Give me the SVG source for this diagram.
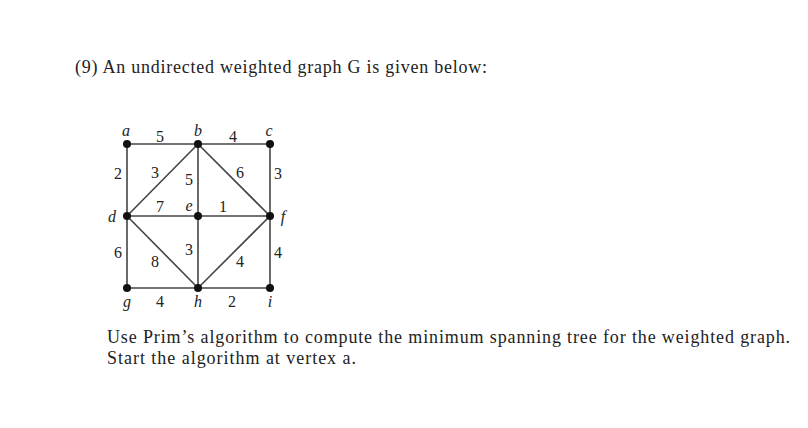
<svg xmlns="http://www.w3.org/2000/svg" width="808" height="428" viewBox="0 0 808 428">
<style>
text{font-family:"Liberation Serif",serif;fill:#222}
.t{font-size:18px}
.w{font-size:16px;text-anchor:middle}
.v{font-size:16px;font-style:italic;text-anchor:middle}
line{stroke:#444;stroke-width:1.6}
circle{fill:#111}
</style>
<rect width="808" height="428" fill="#fff"/>
<text class="t" x="75" y="73" textLength="412" lengthAdjust="spacing">(9) An undirected weighted graph G is given below:</text>
<g id="edges">
<line x1="127" y1="144" x2="270" y2="144"/>
<line x1="127" y1="216" x2="270" y2="216"/>
<line x1="127" y1="288" x2="270" y2="288"/>
<line x1="127" y1="144" x2="127" y2="288"/>
<line x1="198" y1="144" x2="198" y2="288"/>
<line x1="270" y1="144" x2="270" y2="288"/>
<line x1="127" y1="216" x2="198" y2="144"/>
<line x1="198" y1="144" x2="270" y2="216"/>
<line x1="127" y1="216" x2="198" y2="288"/>
<line x1="198" y1="288" x2="270" y2="216"/>
</g>
<g id="weights">
<text class="w" x="160" y="142">5</text><text class="w" x="233" y="142">4</text>
<text class="w" x="118" y="179">2</text><text class="w" x="155" y="178">3</text>
<text class="w" x="189" y="185">5</text><text class="w" x="240" y="178">6</text>
<text class="w" x="278" y="179">3</text><text class="w" x="160" y="212">7</text>
<text class="w" x="223" y="212">1</text><text class="w" x="118" y="258">6</text>
<text class="w" x="155" y="267">8</text><text class="w" x="189" y="255">3</text>
<text class="w" x="240" y="267">4</text><text class="w" x="278" y="258">4</text>
<text class="w" x="160" y="307">4</text><text class="w" x="232" y="307">2</text>
</g>
<g id="a"><circle cx="127" cy="144" r="4"/><text class="v" x="126" y="136">a</text></g>
<g id="b"><circle cx="198" cy="144" r="4"/><text class="v" x="198" y="136">b</text></g>
<g id="c"><circle cx="270" cy="144" r="4"/><text class="v" x="269" y="136">c</text></g>
<g id="d"><circle cx="127" cy="216" r="4"/><text class="v" x="112" y="222">d</text></g>
<g id="e"><circle cx="198" cy="216" r="4"/><text class="v" x="189" y="211">e</text></g>
<g id="f"><circle cx="270" cy="216" r="4"/><text class="v" x="283" y="222">f</text></g>
<g id="g"><circle cx="127" cy="288" r="4"/><text class="v" x="127" y="307">g</text></g>
<g id="h"><circle cx="198" cy="288" r="4"/><text class="v" x="198" y="307">h</text></g>
<g id="i"><circle cx="270" cy="288" r="4"/><text class="v" x="270" y="307">i</text></g>
<text class="t" x="107" y="343" textLength="683" lengthAdjust="spacing">Use Prim’s algorithm to compute the minimum spanning tree for the weighted graph.</text>
<text class="t" x="107" y="364" textLength="249" lengthAdjust="spacing">Start the algorithm at vertex a.</text>
</svg>
